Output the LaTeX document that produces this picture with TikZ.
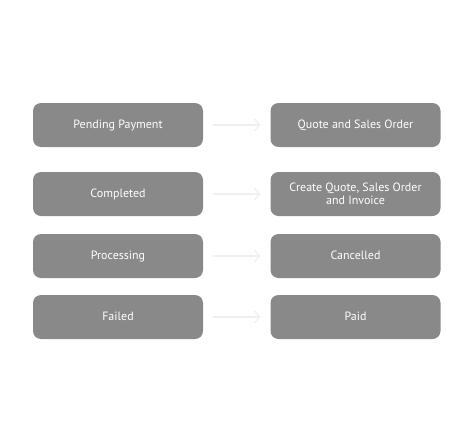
\documentclass[tikz,border=0pt]{standalone}
\usepackage{fontspec}
\setmainfont{PT Sans}
\usetikzlibrary{arrows.meta}
\definecolor{boxgray}{HTML}{898989}
\definecolor{arrowgray}{HTML}{F0F0F0}
\tikzset{
  statebox/.style={fill=boxgray, draw=none, rounded corners=8pt, minimum width=170pt, minimum height=44pt, text=white, font=\fontsize{12}{13.5}\selectfont, align=center, inner sep=0pt},
  oneline/.style={text height=8.5pt, text depth=2.5pt},
  conn/.style={draw=arrowgray, line width=1.2pt, -{Straight Barb[length=5pt,width=12pt]}}
}
\begin{document}
\begin{tikzpicture}[x=1pt,y=-1pt]
\useasboundingbox[fill=white] (0,0) rectangle (474,442);
\node[statebox,oneline] (l1) at (118,125) {Pending Payment};
\node[statebox,oneline] (r1) at (355.5,125) {Quote and Sales Order};
\node[statebox,oneline] (l2) at (118,194) {Completed};
\node[statebox] (r2) at (355.5,194) {Create Quote, Sales Order\\and Invoice};
\node[statebox,oneline] (l3) at (118,256) {Processing};
\node[statebox,oneline] (r3) at (355.5,256) {Cancelled};
\node[statebox,oneline] (l4) at (118,317) {Failed};
\node[statebox,oneline] (r4) at (355.5,317) {Paid};
\foreach \i in {1,2,3,4}{
  \draw[conn] ([xshift=10pt]l\i.east) -- ([xshift=-10pt]r\i.west);
}
\end{tikzpicture}
\end{document}
